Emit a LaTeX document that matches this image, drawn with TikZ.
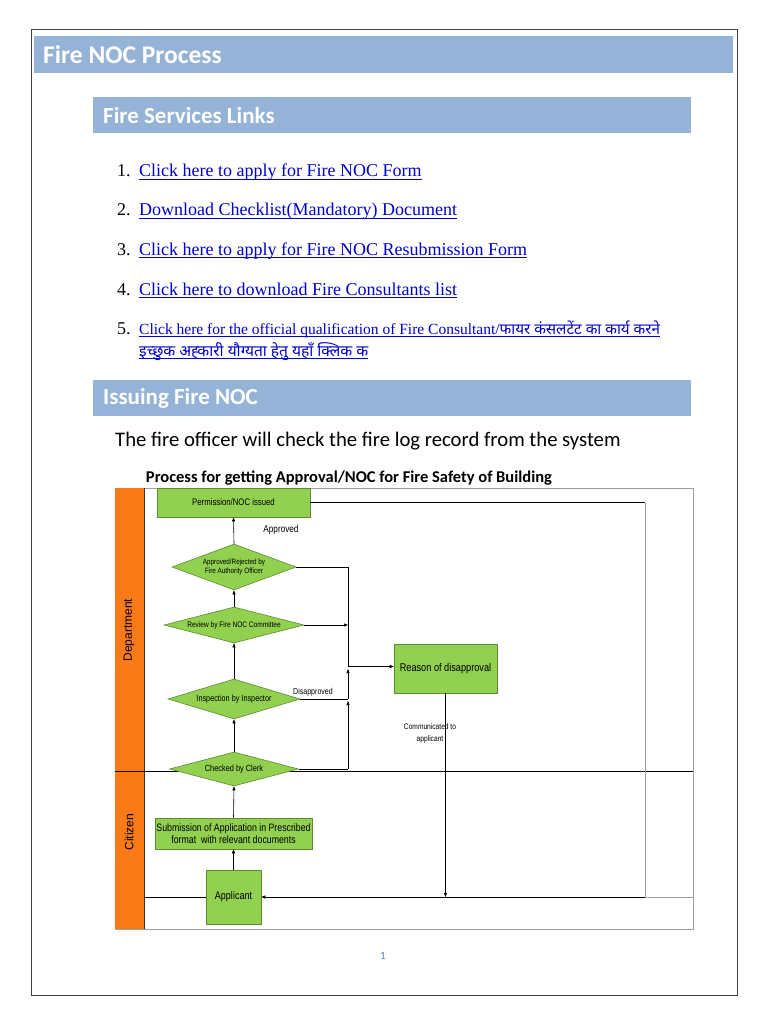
\documentclass[tikz,border=0pt]{standalone}
\usepackage{fontspec}
\setmainfont{Liberation Serif}
\newfontfamily\calfont{Carlito}
\newfontfamily\devafont[Script=Devanagari]{Noto Sans}
\newfontfamily\narrowfont[FakeStretch=0.82]{Liberation Sans}
\newfontfamily\arialfont{Liberation Sans}
\usetikzlibrary{shapes.geometric,arrows.meta}
\definecolor{hdr}{HTML}{95B3D7}
\definecolor{lnk}{HTML}{0000CC}
\definecolor{grn}{HTML}{92D050}
\definecolor{grnd}{HTML}{5E8A34}
\definecolor{org}{HTML}{F97A17}
\definecolor{frm}{HTML}{A0A0A0}
\definecolor{pgnum}{HTML}{4F81BD}
\tikzset{
  hdrtext/.style={anchor=west, text=white, inner sep=0, font=\calfont\bfseries\fontsize{23}{23}\selectfont},
  numtext/.style={anchor=base west, inner sep=0, font=\fontsize{18}{18}\selectfont},
  linktext/.style={anchor=base west, inner sep=0, text=lnk, font=\fontsize{18}{18}\selectfont},
  gbox/.style={draw=grnd, fill=grn, line width=0.6pt, inner sep=1pt, align=center, font=\narrowfont\fontsize{9.5}{11}\selectfont},
  gdia/.style={diamond, draw=grnd, fill=grn, line width=0.6pt, inner sep=0pt, aspect=3.5, align=center, font=\narrowfont\fontsize{8}{9}\selectfont},
  arr/.style={draw=black, line width=0.6pt, -{Triangle[length=4pt,width=3pt]}},
  ln/.style={draw=black, line width=0.6pt},
  small/.style={inner sep=0, font=\narrowfont\fontsize{7.5}{9}\selectfont, align=center}
}
\begin{document}
\begin{tikzpicture}[x=1pt,y=-1pt]
\useasboundingbox (0,0) rectangle (768,1024);
\fill[white] (0,0) rectangle (768,1024);
\draw[black!75, line width=0.8pt] (31,29) rectangle (737,995);
% header bars
\fill[hdr] (34,36) rectangle (733,73);
\node[hdrtext, font=\calfont\bfseries\fontsize{25.5}{25.5}\selectfont] (h1) at (43,55) {Fire NOC Process};
\fill[hdr] (93,97) rectangle (691,133);
\node[hdrtext] (h2) at (103,115.5) {Fire Services Links};
\fill[hdr] (93,380) rectangle (691,416);
\node[hdrtext] (h3) at (103,398.5) {Issuing Fire NOC};
% list
\node[numtext] (n1) at (117,177) {1.};
\node[linktext] (l1) at (139,177) {Click here to apply for Fire NOC Form};
\node[numtext] (n2) at (117,216) {2.};
\node[linktext] (l2) at (139,216) {Download Checklist(Mandatory) Document};
\node[numtext] (n3) at (117,255) {3.};
\node[linktext] (l3) at (139,255) {Click here to apply for Fire NOC Resubmission Form};
\node[numtext] (n4) at (117,295) {4.};
\node[linktext] (l4) at (139,295) {Click here to download Fire Consultants list};
\node[numtext] (n5) at (117,334) {5.};
\node[linktext, font=\fontsize{15.5}{15.5}\selectfont] (l5) at (139,334) {Click here for the official qualification of Fire Consultant/{\devafont\fontsize{15.2}{15.2}\selectfont फायर कंसलटेंट का कार्य करने}};
\node[linktext, font=\devafont\fontsize{15.5}{15.5}\selectfont] (l6) at (139,356) {इच्छुक अह्कारी यौग्यता हेतु यहाँ क्लिक क};
\foreach \n in {l1,l2,l3,l4,l5,l6}
  \draw[lnk, line width=0.8pt] ([yshift=-2.5pt]\n.base west) -- ([yshift=-2.5pt]\n.base east);
% sentence
\node[anchor=base west, inner sep=0, font=\calfont\fontsize{20.7}{20.7}\selectfont] (s1) at (115,446) {The fire officer will check the fire log record from the system};
% diagram title
\node[inner sep=0, font=\calfont\bfseries\fontsize{16.5}{16.5}\selectfont] (dt) at (349,478) {Process for getting Approval/NOC for Fire Safety of Building};
% frame and lanes
\draw[frm, line width=0.8pt] (115,488) rectangle (693,929);
\fill[org] (115,488) rectangle (144,929);
\draw[black!80, line width=0.7pt] (144,488) -- (144,929);
\draw[black, line width=1pt] (115,771) -- (693,771);
\node[rotate=90, inner sep=0, font=\arialfont\fontsize{12}{12}\selectfont] (dep) at (129,630) {Department};
\node[rotate=90, inner sep=0, font=\arialfont\fontsize{12}{12}\selectfont] (cit) at (129,832) {Citizen};
% nodes
\node[gbox, minimum width=153pt, minimum height=29pt] (PM) at (233.5,502.5) {Permission/NOC issued};
\node[gdia, minimum width=124pt, minimum height=46pt, font=\narrowfont\fontsize{7.7}{9}\selectfont] (AR) at (234,567) {Approved/Rejected by\\Fire Authority Officer};
\node[gdia, minimum width=140pt, minimum height=36pt] (RV) at (234,625) {Review by Fire NOC Committee};
\node[gdia, minimum width=132pt, minimum height=40pt, font=\narrowfont\fontsize{8.9}{9}\selectfont] (IN) at (234,699) {Inspection by Inspector};
\node[gdia, minimum width=129pt, minimum height=34pt, font=\narrowfont\fontsize{9}{9}\selectfont] (CK) at (234,769) {Checked by Clerk};
\node[gbox, minimum width=157pt, minimum height=31pt, font=\narrowfont\fontsize{10.7}{12}\selectfont] (SB) at (233.5,833.5) {Submission of Application in Prescribed\\format~ with relevant documents};
\node[gbox, minimum width=55pt, minimum height=54pt, font=\narrowfont\fontsize{11}{11}\selectfont] (AP) at (233.5,897) {Applicant};
\node[gbox, minimum width=103pt, minimum height=49pt, font=\narrowfont\fontsize{11.2}{12}\selectfont] (RD) at (445.5,668.5) {Reason of disapproval};
% labels
\node[small, font=\narrowfont\fontsize{10}{10}\selectfont] (lap) at (281,530) {Approved};
\node[small, font=\narrowfont\fontsize{8.6}{9}\selectfont] (ldis) at (313,692) {Disapproved};
\node[small, font=\narrowfont\fontsize{8.1}{11.5}\selectfont] (lcom) at (430,733.5) {Communicated to\\applicant};
% coordinates
\coordinate (jAR) at (348,567);
\coordinate (jRD) at (348,666.5);
\coordinate (jIN) at (348,699);
\coordinate (jINt) at (348,669);
\coordinate (jCK) at (348,769);
\coordinate (jCKt) at (348,701);
\coordinate (jTR) at (645,502.5);
\coordinate (jBR) at (645,897);
\coordinate (jBL) at (144,897);
\coordinate (jFR) at (693,897);
% connectors
\draw[arr] (AP.north) -- (SB.south);
\draw[arr] (SB.north) -- (CK.south);
\draw[arr] (CK.north) -- (IN.south);
\draw[arr] (IN.north) -- (RV.south);
\draw[arr] (RV.north) -- (AR.south);
\draw[arr] (AR.north) -- (PM.south);
\draw[ln] (AR.east) -- (jAR) -- (jRD);
\draw[arr] (RV.east) -- (RV.east -| jAR);
\draw[ln] (IN.east) -- (jIN);
\draw[arr] (jIN) -- (jINt);
\draw[ln] (CK.east) -- (jCK);
\draw[arr] (jCK) -- (jCKt);
\draw[arr] (jRD) -- (RD.west |- jRD);
\draw[ln] (PM.east) -- (jTR);
\draw[frm, line width=0.8pt] (jTR) -- (jBR);
\draw[arr] (RD.south) -- (RD.south |- jBR);
\draw[arr, line width=0.8pt] (jBR) -- (AP.east |- jBR);
\draw[frm, line width=0.8pt] (jBR) -- (jFR);
\draw[ln] (jBL) -- (AP.west |- jBL);
% page number
\node[inner sep=0, text=pgnum, font=\calfont\fontsize{11}{11}\selectfont] (pg) at (383,956) {1};
\end{tikzpicture}
\end{document}
